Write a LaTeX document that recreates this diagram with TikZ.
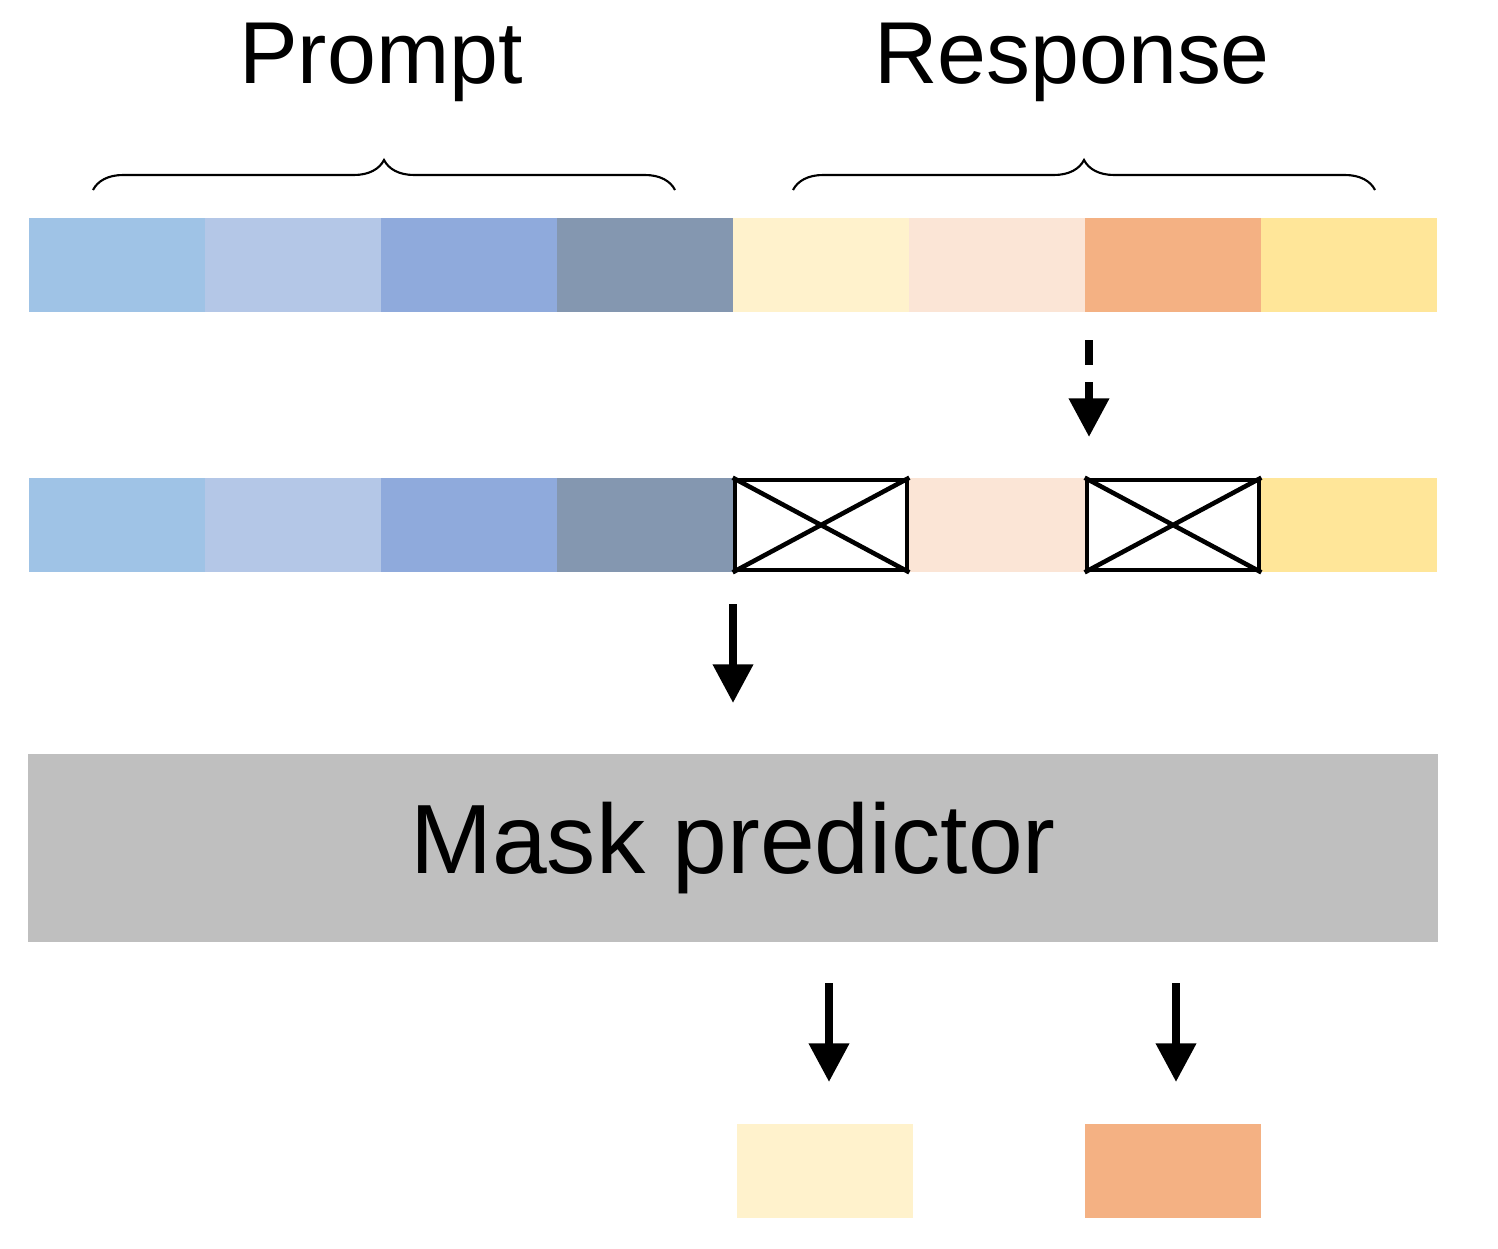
\documentclass[tikz,border=0pt]{standalone}
\usepackage{fontspec}
\setmainfont{Liberation Sans}
\usetikzlibrary{decorations.pathreplacing,arrows.meta}
\definecolor{c1}{HTML}{9FC3E6}\definecolor{c2}{HTML}{B4C7E7}\definecolor{c3}{HTML}{8FAADC}\definecolor{c4}{HTML}{8497B0}
\definecolor{c5}{HTML}{FFF2CC}\definecolor{c6}{HTML}{FBE5D6}\definecolor{c7}{HTML}{F4B183}\definecolor{c8}{HTML}{FFE699}
\definecolor{pred}{HTML}{BFBFBF}
\begin{document}
\begin{tikzpicture}[x=0.01cm,y=-0.01cm,
 cell/.style={draw=none,minimum width=1.76cm,minimum height=0.94cm,inner sep=0},
 masked/.style={cell,fill=white,draw=black,line width=1.3pt,minimum width=1.72cm,minimum height=0.90cm},
 arr/.style={line width=2.3pt,-{Triangle[width=11pt,length=11pt]}},
 br/.style={decorate,decoration={brace,amplitude=0.3cm},line width=0.6pt},
 lbl/.style={font=\fontsize{25}{30}\selectfont}]
\useasboundingbox (0,0) rectangle (1498,1248);
\foreach \i/\c in {1/c1,2/c2,3/c3,4/c4,5/c5,6/c6,7/c7,8/c8}{
  \node[cell,fill=\c] (a\i) at ({29+176*(\i-1)+88},265) {};
}
\foreach \i/\c in {1/c1,2/c2,3/c3,4/c4,6/c6,8/c8}{
  \node[cell,fill=\c] (b\i) at ({29+176*(\i-1)+88},525) {};
}
\foreach \i in {5,7}{
  \node[masked] (b\i) at ({29+176*(\i-1)+88},525) {};
  \draw[line width=1.3pt] (b\i.north west) -- (b\i.south east) (b\i.south west) -- (b\i.north east);
}
\node[fill=pred,minimum width=14.1cm,minimum height=1.87cm,inner sep=0,font=\fontsize{28}{34}\selectfont] (mp) at (733,848) {Mask predictor};
\node[cell,fill=c5] (o1) at (825,1171) {};
\node[cell,fill=c7] (o2) at (1173,1171) {};
\draw[br] (93,190) -- (675,190) coordinate[midway] (pm);
\draw[br] (793,190) -- (1375,190) coordinate[midway] (rm);
\node[lbl] (pl) at (381,62) {Prompt};
\node[lbl] (rl) at (1072,62) {Response};
\coordinate (d1) at (1089,340); \coordinate (d2) at (1089,437);
\draw[arr,dash pattern=on 7pt off 5pt] (d1) -- (d2);
\coordinate (s1) at (733,604); \coordinate (s2) at (733,703);
\draw[arr] (s1) -- (s2);
\coordinate (t1) at (829,983); \coordinate (t2) at (829,1082);
\draw[arr] (t1) -- (t2);
\coordinate (u1) at (1176,983); \coordinate (u2) at (1176,1082);
\draw[arr] (u1) -- (u2);
\end{tikzpicture}
\end{document}
